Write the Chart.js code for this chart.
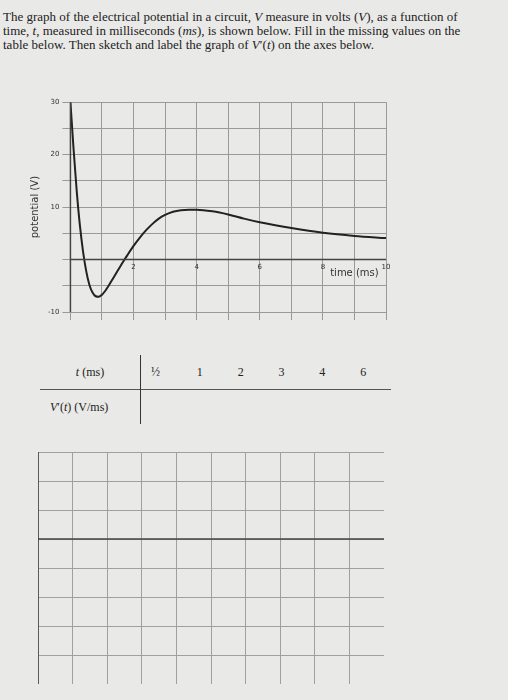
<!DOCTYPE html>
<html><head><meta charset="utf-8">
<script src="https://cdn.jsdelivr.net/npm/chart.js@4"></script>
<style>
body{margin:0;width:508px;height:700px;background:#e9e9e7;font-family:"Liberation Serif",serif;color:#222;position:relative;overflow:hidden}
#intro{position:absolute;left:3px;top:10px;width:480px;font-size:13px;line-height:14px}
#c1wrap{position:absolute;left:25px;top:95px;width:365px;height:225px}
#c2wrap{position:absolute;left:38px;top:452px;width:346px;height:232px}
table{position:absolute;left:40px;top:355px;border-collapse:collapse;font-size:12px}
td{padding:0 10px;height:34px}
</style></head><body>
<div id="intro">The graph of the electrical potential in a circuit, <i>V</i> measure in volts (<i>V</i>), as a function of time, <i>t</i>, measured in milliseconds (<i>ms</i>), is shown below. Fill in the missing values on the table below. Then sketch and label the graph of <i>V</i>′(<i>t</i>) on the axes below.</div>
<div id="c1wrap"><canvas id="c1"></canvas></div>
<table>
<tr><td style="width:80px;text-align:center;border-right:1px solid #333"><i>t</i> (ms)</td><td>½</td><td>1</td><td>2</td><td>3</td><td>4</td><td>6</td></tr>
<tr><td style="border-right:1px solid #333;border-top:1px solid #555"><i>V</i>′(<i>t</i>) (V/ms)</td><td colspan="6" style="border-top:1px solid #555;width:230px"></td></tr>
</table>
<div id="c2wrap"><canvas id="c2"></canvas></div>
<script>
// curve
const times = [0,0.1,0.2,0.3,0.4,0.5,0.6,0.7,0.8,0.9,1,1.1,1.2,1.35,1.5,1.65,1.8,2,2.2,2.4,2.6,2.8,3,3.25,3.5,3.75,4,4.5,5,5.5,6,7,8,9,10];
const volts = [30,21,13,6.5,1.5,-2.2,-4.8,-6.3,-7,-7.1,-6.7,-6,-5.1,-3.6,-2.1,-0.6,0.8,2.6,4.2,5.6,6.8,7.8,8.5,9.1,9.4,9.5,9.5,9.2,8.6,7.8,7.1,6,5.1,4.5,4.1];
const xTicks = [2,4,6,8,10];
const yTicks = [-10,10,20,30];

Chart.defaults.font.family = '"DejaVu Sans", sans-serif';
Chart.defaults.color = '#333';

const axisLine = {
  id: 'axisLine',
  afterDraw(chart) {
    const {ctx, chartArea: a, scales: {x, y}} = chart;
    ctx.save();
    ctx.strokeStyle = '#444';
    ctx.lineWidth = 1.5;
    ctx.beginPath();
    ctx.moveTo(a.left, y.getPixelForValue(0));
    ctx.lineTo(a.right, y.getPixelForValue(0));
    ctx.moveTo(x.getPixelForValue(0), a.top);
    ctx.lineTo(x.getPixelForValue(0), a.bottom);
    ctx.stroke();
    if (chart.canvas.id === 'c1') {
      ctx.fillStyle = '#333';
      ctx.font = '7px "DejaVu Sans"';
      ctx.textAlign = 'center';
      xTicks.forEach(t => ctx.fillText(t, x.getPixelForValue(t), y.getPixelForValue(0) + 9));
      ctx.font = '10px "DejaVu Sans"';
      ctx.fillText('time (ms)', x.getPixelForValue(9), y.getPixelForValue(-3.2));
    }
    ctx.restore();
  }
};

new Chart(document.getElementById('c1'), {
  type: 'line',
  data: { datasets: [{ data: times.map((t, i) => ({x: t, y: volts[i]})), borderColor: '#222', borderWidth: 2, pointRadius: 0, cubicInterpolationMode: 'monotone' }] },
  options: {
    responsive: true, maintainAspectRatio: false, animation: false,
    layout: { padding: { right: 4 } },
    plugins: { legend: {display: false}, tooltip: {enabled: false} },
    scales: {
      x: { type: 'linear', min: 0, max: 10, ticks: { stepSize: 1, display: false }, grid: { color: '#9a9a9a' }, border: {display: false} },
      y: { min: -10, max: 30, ticks: { stepSize: 5, font: {size: 7}, callback: v => yTicks.includes(v) ? v : '' },
           grid: { color: '#9a9a9a' }, border: {display: false},
           title: { display: true, text: 'potential (V)', font: {size: 10} } }
    }
  },
  plugins: [axisLine]
});

new Chart(document.getElementById('c2'), {
  type: 'line',
  data: { datasets: [{ data: [] }] },
  options: {
    responsive: true, maintainAspectRatio: false, animation: false,
    plugins: { legend: {display: false}, tooltip: {enabled: false} },
    layout: { padding: 0 },
    scales: {
      x: { type: 'linear', min: 0, max: 10, ticks: { stepSize: 1, display: false }, grid: { color: '#a0a0a0', drawTicks: false }, border: {display: false} },
      y: { min: -5, max: 3, ticks: { stepSize: 1, display: false }, grid: { color: '#a0a0a0', drawTicks: false }, border: {display: false} }
    }
  },
  plugins: [axisLine]
});
</script>
</body></html>
